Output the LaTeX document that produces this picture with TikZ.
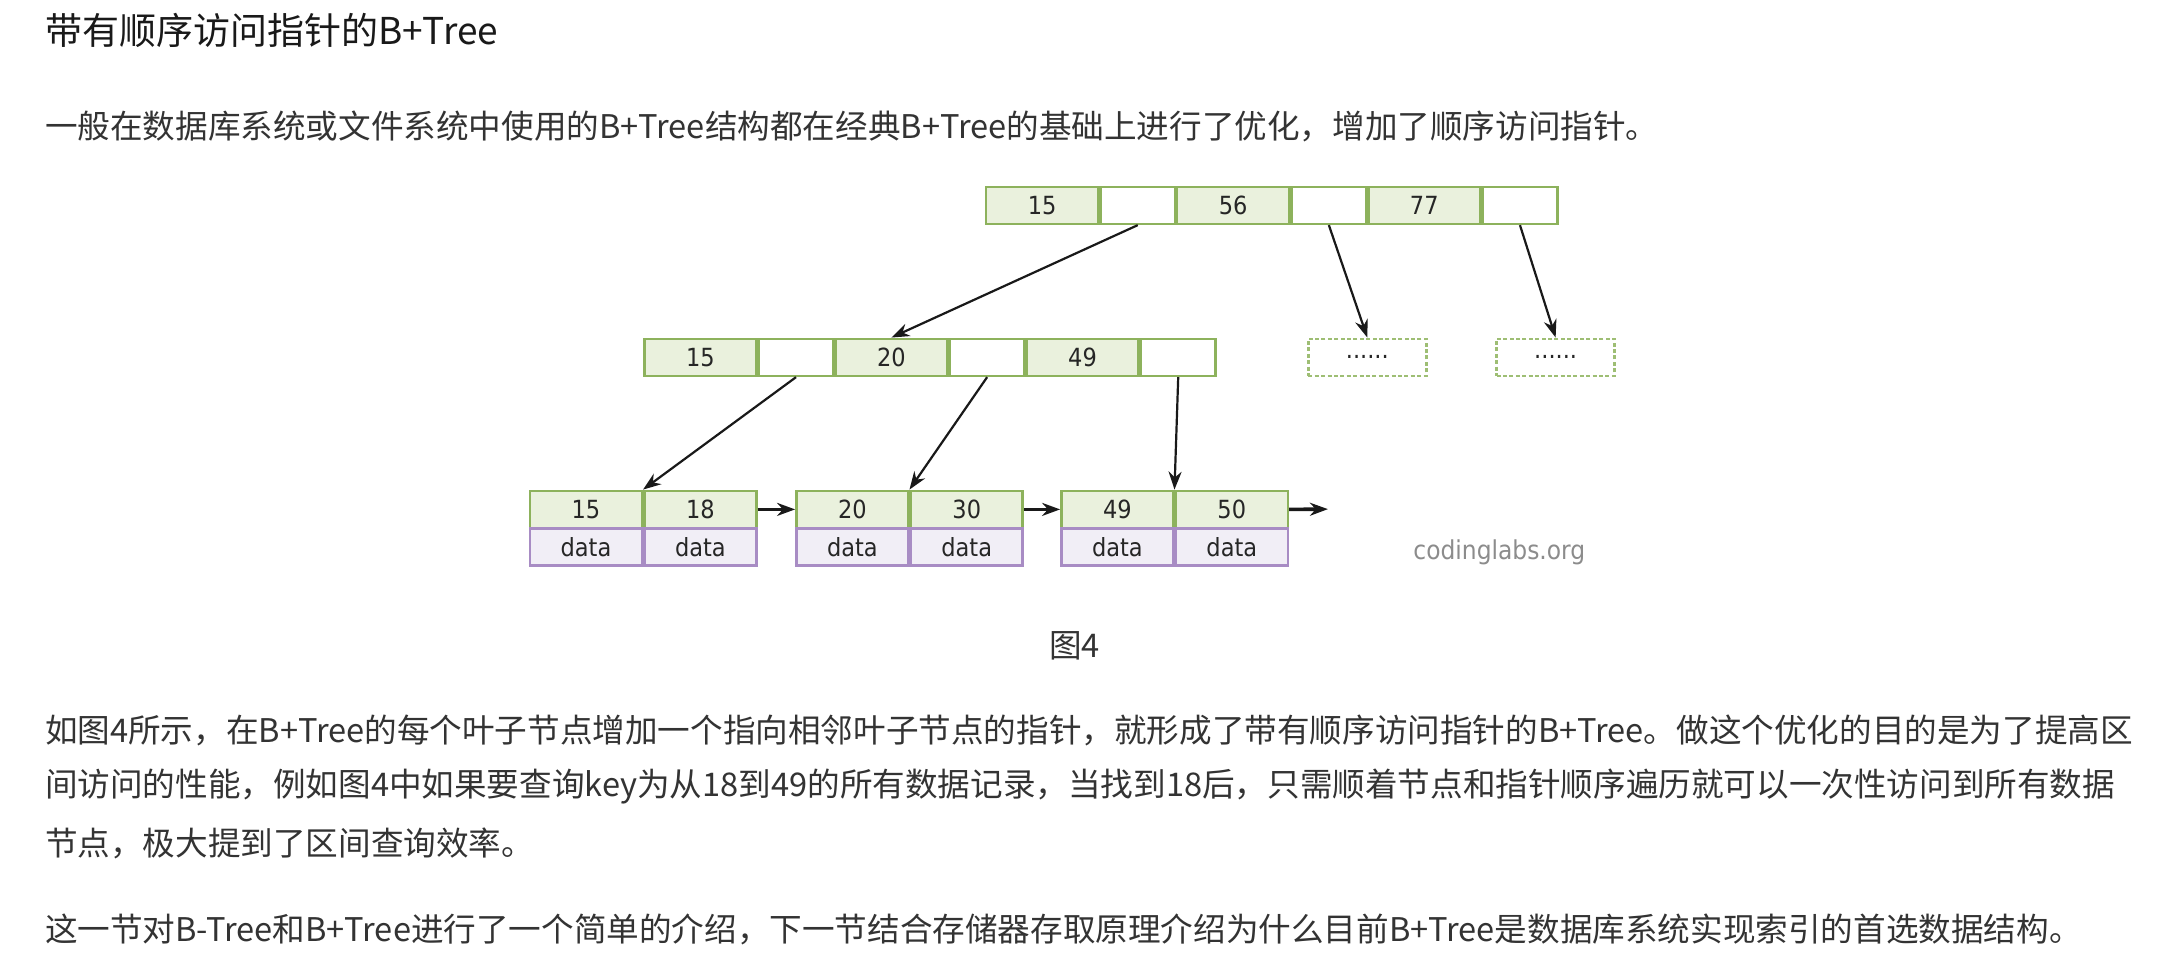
\documentclass[tikz,border=0pt]{standalone}
\usepackage{fontspec}
\setmainfont{Noto Sans CJK SC}
\newfontfamily\figfont{DejaVu Sans Condensed}
\usetikzlibrary{arrows.meta}
\definecolor{txt}{HTML}{333333}
\definecolor{gb}{HTML}{8DB25C}
\definecolor{gf}{HTML}{EAF1DD}
\definecolor{pb}{HTML}{A88CC4}
\definecolor{pf}{HTML}{F1EEF6}
\tikzset{
  cellbase/.style={anchor=north west,inner sep=0pt,line width=1.3pt,minimum height=18.5pt,font=\figfont\fontsize{12.5}{12.5}\selectfont,text=black!85},
  keycell/.style={cellbase,draw=gb,fill=gf,minimum width=56pt},
  ptrcell/.style={cellbase,draw=gb,fill=white,minimum width=37.3pt},
  leafkey/.style={cellbase,draw=gb,fill=gf,minimum width=56pt},
  datacell/.style={cellbase,draw=pb,fill=pf,minimum width=56pt},
  dashbox/.style={cellbase,draw=gb!85,dashed,dash pattern=on 2pt off 1.2pt,minimum width=59pt},
  arr/.style={-{Stealth[length=9pt,width=6.5pt]},line width=1.1pt,black!90},
  body/.style={anchor=west,inner sep=0pt,text=txt,font=\fontsize{16.3}{16.3}\selectfont},
}
\begin{document}
\begin{tikzpicture}[x=0.6974pt,y=-0.6974pt]
\useasboundingbox[fill=white] (0,0) rectangle (1560,697);
\node[body,font=\fontsize{18.5}{18.5}\selectfont,text=black!90] (title) at (32,22) {带有顺序访问指针的B+Tree};
\node[body] (p1) at (32,91) {一般在数据库系统或文件系统中使用的B+Tree结构都在经典B+Tree的基础上进行了优化，增加了顺序访问指针。};
% top
\node[keycell] (t1) at (706,133) {15};
\node[ptrcell] (t2) at (788,133) {};
\node[keycell] (t3) at (843,133) {56};
\node[ptrcell] (t4) at (925,133) {};
\node[keycell] (t5) at (980,133) {77};
\node[ptrcell] (t6) at (1062,133) {};
% middle
\node[keycell] (m1) at (461,242) {15};
\node[ptrcell] (m2) at (543,242) {};
\node[keycell] (m3) at (598,242) {20};
\node[ptrcell] (m4) at (680,242) {};
\node[keycell] (m5) at (735,242) {49};
\node[ptrcell] (m6) at (817,242) {};
\node[dashbox] (d1) at (937,242) {......};
\node[dashbox] (d2) at (1072,242) {......};
% leaves
\node[leafkey] (l1a) at (379,351) {15};
\node[leafkey] (l1b) at (461,351) {18};
\node[datacell] (l1c) at (379,378) {data};
\node[datacell] (l1d) at (461,378) {data};
\node[leafkey] (l2a) at (570,351) {20};
\node[leafkey] (l2b) at (652,351) {30};
\node[datacell] (l2c) at (570,378) {data};
\node[datacell] (l2d) at (652,378) {data};
\node[leafkey] (l3a) at (760,351) {49};
\node[leafkey] (l3b) at (842,351) {50};
\node[datacell] (l3c) at (760,378) {data};
\node[datacell] (l3d) at (842,378) {data};
\coordinate (endp) at (952,365);
% arrows
\draw[arr] (t2.south) -- (m3.north);
\draw[arr] (t4.south) -- (d1.north);
\draw[arr] (t6.south) -- (d2.north);
\draw[arr] (m2.south) -- (l1b.north west);
\draw[arr] (m4.south) -- (l2b.north west);
\draw[arr] (m6.south) -- (l3b.north west);
\draw[arr,line width=1.8pt] (l1b.east) -- (l2a.west);
\draw[arr,line width=1.8pt] (l2b.east) -- (l3a.west);
\draw[arr,line width=1.8pt] (l3b.east) -- (endp);
\node[anchor=west,inner sep=0pt,text=black!45,font=\figfont\fontsize{13}{13}\selectfont] (cl) at (1013,396) {codinglabs.org};
\node[body] (cap) at (752,463) {图4};
\node[body] (q1) at (32,524) {如图4所示，在B+Tree的每个叶子节点增加一个指向相邻叶子节点的指针，就形成了带有顺序访问指针的B+Tree。做这个优化的目的是为了提高区};
\node[body] (q2) at (32,564) {间访问的性能，例如图4中如果要查询key为从18到49的所有数据记录，当找到18后，只需顺着节点和指针顺序遍历就可以一次性访问到所有数据};
\node[body] (q3) at (32,605) {节点，极大提到了区间查询效率。};
\node[body] (q4) at (32,666) {这一节对B-Tree和B+Tree进行了一个简单的介绍，下一节结合存储器存取原理介绍为什么目前B+Tree是数据库系统实现索引的首选数据结构。};
\end{tikzpicture}
\end{document}
